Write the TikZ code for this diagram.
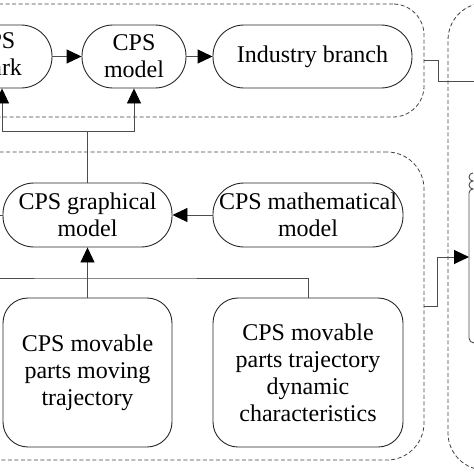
\documentclass[tikz,border=0pt]{standalone}
\usepackage{fontspec}
\setmainfont{Liberation Serif}
\usetikzlibrary{arrows.meta}
\begin{document}
\begin{tikzpicture}[x=1pt,y=-1pt,
  every node/.style={inner sep=0pt, align=center, font=\fontsize{24}{27}\selectfont},
  pill/.style={draw=black!85, line width=0.9pt, rounded corners=31pt, minimum height=63pt},
  rbox/.style={draw=black!85, line width=0.9pt, rounded corners=25pt, minimum height=149pt},
  group/.style={draw=black!75, line width=0.8pt, dash pattern=on 4pt off 2.5pt},
  conn/.style={draw=black!70, line width=0.9pt},
  arr/.style={conn, -{Triangle[length=15pt,width=14pt,color=black,fill=black]}}
]
\useasboundingbox (0,0) rectangle (474,474);
% containers
\node[group, rounded corners=31pt, minimum width=524pt, minimum height=113pt] (topbox) at (162,60.5) {};
\node[group, rounded corners=37pt, minimum width=524pt, minimum height=308pt] (lowbox) at (162,306) {};
\node[group, rounded corners=37pt, minimum width=112pt, minimum height=467pt] (rightbox) at (504,236.5) {};
% top row
\node[pill, minimum width=116pt] (spark) at (-6,56.5) {CPS\\Spark};
\node[pill, minimum width=104pt] (model) at (134,56.5) {CPS\\model};
\node[pill, minimum width=199pt] (industry) at (312.5,56.5) {Industry branch};
% middle row
\node[pill, minimum width=169pt, minimum height=64pt] (graph) at (87.5,215) {CPS graphical\\model};
\node[pill, minimum width=190pt, minimum height=64pt] (math) at (308,215) {CPS mathematical\\model};
% bottom row
\node[rbox, minimum width=169pt] (mov) at (87.5,372.5) {CPS movable\\parts moving\\trajectory};
\node[rbox, minimum width=190pt] (dyn) at (308,372.5) {CPS movable\\parts trajectory\\dynamic\\characteristics};
% store shape at right
\draw[draw=black!70, line width=0.9pt] (473,173) arc[start angle=270, end angle=90, radius=4]
  arc[start angle=270, end angle=90, radius=4]
  arc[start angle=270, end angle=180, radius=4] -- (469,338)
  arc[start angle=180, end angle=90, radius=5] -- (480,343);
\coordinate (storein) at (469,257);
\coordinate (j1) at (87.5,131);
\coordinate (j2) at (87.5,278);
\coordinate (leftend) at (-20,278);
\coordinate (leftin) at (-20,215);
\coordinate (rightout) at (490,81);
% connectors
\draw[arr] (spark.east) -- (model.west);
\draw[arr] (model.east) -- (industry.west);
\draw[arr] (math.west) -- (graph.east);
\draw[conn] (graph.north) -- (j1);
\draw[arr] (j1) -| (model.south);
\draw[arr] (j1) -| ([xshift=8pt]spark.south);
\draw[arr] (j2) -- (graph.south);
\draw[conn] (leftend) -- (j2) -| (dyn.north);
\draw[conn] (j2) -- (mov.north);
\draw[conn] (leftin) -- (graph.west);
\draw[conn] (topbox.east) -- ++(14,0) |- (rightout);
\draw[arr] (lowbox.east) -- ++(13,0) |- (storein);
\end{tikzpicture}
\end{document}
